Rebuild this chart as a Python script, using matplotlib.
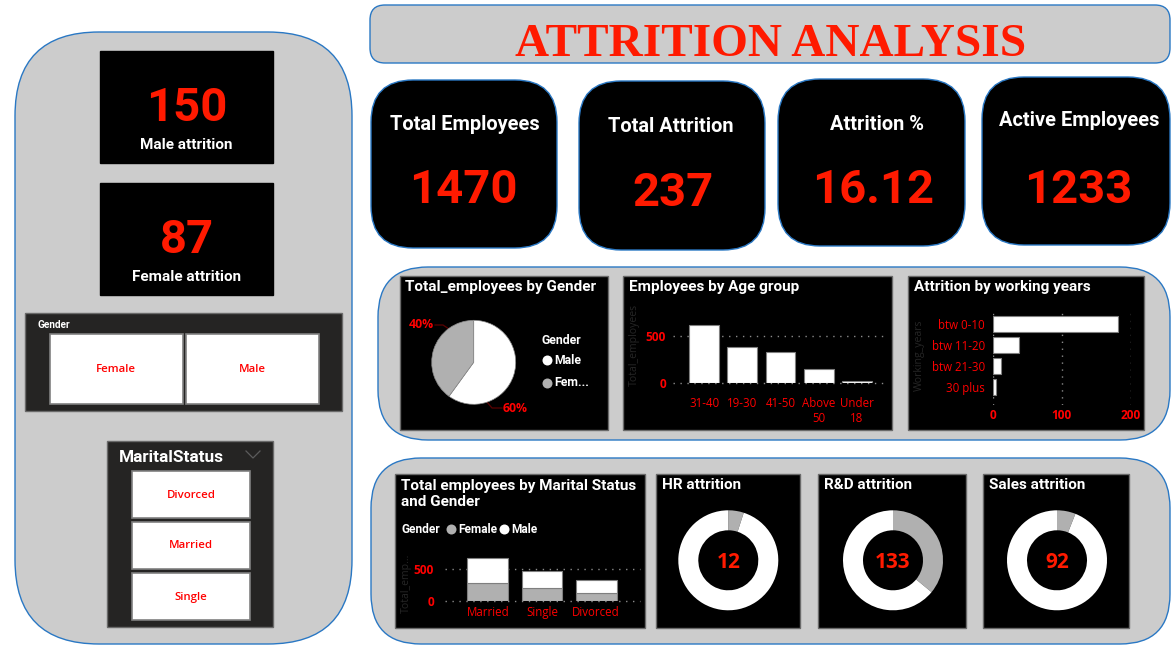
import matplotlib
matplotlib.use("Agg")
import matplotlib.pyplot as plt
from matplotlib.patches import FancyBboxPatch, Rectangle

# ---------- data ----------
title_text = "ATTRITION ANALYSIS"
kpi_labels = ["Total Employees", "Total Attrition", "Attrition %", "Active Employees"]
kpi_values = ["1470", "237", "16.12", "1233"]
side_labels = ["Male attrition", "Female attrition"]
side_values = ["150", "87"]
gender_opts = ["Female", "Male"]
marital_opts = ["Divorced", "Married", "Single"]

gender_names = ["Male", "Female"]
gender_counts = [882, 588]

age_groups = ["31-40", "19-30", "41-50", "Above\n50", "Under\n18"]
age_counts = [619, 379, 325, 143, 15]

year_groups = ["btw 0-10", "btw 11-20", "btw 21-30", "30 plus"]
year_attrition = [181, 38, 11, 5]

marital_groups = ["Married", "Single", "Divorced"]
marital_female = [276, 196, 117]
marital_male = [403, 282, 207]

dept_titles = ["HR attrition", "R&D attrition", "Sales attrition"]
dept_totals = ["12", "133", "92"]
dept_female_share = [5, 36, 6]
dept_male_share = [95, 64, 94]

# ---------- style ----------
W, H = 1174, 655
RED_BIG = "#ff1a00"
RED = "#ff0000"
GREY = "#b0b0b0"
PANEL = "#cccccc"
BLUE = "#2a78c4"
SLICER = "#252423"
DARK_AXIS = "#262626"
BAR_EDGE = "#7f7f7f"
DIN = "Roboto"
SEGOE = "Open Sans"

fig = plt.figure(figsize=(W / 100, H / 100), dpi=100, facecolor="white")
bg = fig.add_axes([0, 0, 1, 1], zorder=0)
bg.set_xlim(0, W)
bg.set_ylim(H, 0)
bg.axis("off")


def px_axes(x0, y0, x1, y1, z=2):
    ax = fig.add_axes([x0 / W, 1 - y1 / H, (x1 - x0) / W, (y1 - y0) / H], zorder=z)
    ax.patch.set_alpha(0)
    return ax


def rbox(x0, y0, x1, y1, r, fc, ec=BLUE, lw=1.0, z=1):
    bg.add_patch(FancyBboxPatch((x0 + r, y0 + r), x1 - x0 - 2 * r, y1 - y0 - 2 * r,
                                boxstyle=f"round,pad={r},rounding_size={r}",
                                fc=fc, ec=ec, lw=lw, zorder=z))


def rect(x0, y0, x1, y1, fc, ec="#6a6a6a", lw=1.0, z=1.5):
    bg.add_patch(Rectangle((x0, y0), x1 - x0, y1 - y0, fc=fc, ec=ec, lw=lw, zorder=z))


def txt(x, y, s, size, color="white", weight="bold", family=DIN, ha="left", va="center", **kw):
    return bg.text(x, y, s, fontsize=size, color=color, fontweight=weight, family=family,
                   ha=ha, va=va, zorder=3, **kw)


def clean(ax):
    for sp in ax.spines.values():
        sp.set_visible(False)
    ax.tick_params(length=0)


# ---------- panels ----------
rbox(15, 32, 352, 644, 84, PANEL)
rbox(370, 5, 1170, 63, 15, PANEL)
rbox(378, 267, 1170, 440, 50, PANEL)
rbox(371, 458, 1170, 644, 50, PANEL)

txt(771, 45, title_text, 34, color=RED_BIG, family="Liberation Serif", ha="center")

# KPI cards
kpi_boxes = [(371, 80, 557, 248), (579, 81, 765, 250), (778, 79, 965, 246), (982, 77, 1170, 245)]
kpi_label_xy = [(465, 124), (671, 126), (877, 124), (1079, 120)]
kpi_value_xy = [(463, 190), (673, 193), (873, 190), (1078, 190)]
for box, lab, lxy, val, vxy in zip(kpi_boxes, kpi_labels, kpi_label_xy, kpi_values, kpi_value_xy):
    rbox(*box, 42, "black")
    txt(lxy[0], lxy[1], lab, 14.4, ha="center")
    txt(vxy[0], vxy[1], val, 34, color=RED_BIG, ha="center")

# Side cards
side_boxes = [(100, 51, 273, 163), (100, 183, 273, 295)]
for box, lab, val in zip(side_boxes, side_labels, side_values):
    rect(*box, "black", ec="black")
    txt((box[0] + box[2]) / 2, box[1] + 57, val, 34, color=RED_BIG, ha="center")
    txt((box[0] + box[2]) / 2, box[1] + 94, lab, 11, ha="center")

# Gender slicer
rect(25, 313, 342, 411, SLICER)
txt(37, 325, "Gender", 7.2)
for (x0, x1), lab in zip([(49.5, 183), (185.5, 319)], gender_opts):
    rect(x0, 333.5, x1, 404, "white", ec="#808080", lw=1.2, z=2)
    txt((x0 + x1) / 2, 370, lab, 8.2, color=RED, weight="semibold", family=SEGOE, ha="center")

# Marital slicer
rect(107, 441, 273, 627, SLICER)
txt(119, 458, "MaritalStatus", 12.4)
bg.plot([246, 253, 260], [451, 458, 451], color="#5c5c5c", lw=0.9, zorder=3)
for (y0, y1), lab in zip([(470.5, 517.5), (521.5, 568.5), (573, 620)], marital_opts):
    rect(132, y0, 250, y1, "white", ec="#808080", lw=1.2, z=2)
    txt(191, (y0 + y1) / 2 + 1, lab, 8.2, color=RED, weight="semibold", family=SEGOE, ha="center")

# Chart frames
frames = [(400, 276, 608, 430), (623, 276, 892, 430), (908, 276, 1144, 430),
          (395, 474, 645, 628), (656, 474, 800, 628), (818, 474, 966, 628), (983, 474, 1129, 628)]
for f in frames:
    rect(*f, "black")

txt(405, 287, "Total_employees by Gender", 11)
txt(629, 287, "Employees by Age group", 11)
txt(914, 287, "Attrition by working years", 11)
txt(401, 494, "Total employees by Marital Status\nand Gender", 11, linespacing=1.2)

# ---------- pie ----------
ax = px_axes(431.7, 320.3, 515.7, 404.3)
ax.pie(gender_counts, colors=["white", GREY], startangle=90, counterclock=False, radius=1,
       wedgeprops=dict(lw=0.5, ec="#888888"))
ax.set_xlim(-1, 1)
ax.set_ylim(-1, 1)
bg.plot([435, 443, 449], [325, 325, 329], color="#5a0000", lw=0.9, zorder=3)
bg.plot([487, 492, 502], [402, 408, 408], color="#5a0000", lw=0.9, zorder=3)
total = sum(gender_counts)
txt(409, 325, f"{round(100 * gender_counts[1] / total)}%", 8.8, color=RED, family=SEGOE)
txt(503, 408.5, f"{round(100 * gender_counts[0] / total)}%", 8.8, color=RED, family=SEGOE)
txt(542, 340, "Gender", 8.8)
for y, name, col, shown in zip([360, 383], gender_names, ["white", GREY], ["Male", "Fem..."]):
    bg.plot([547], [y], "o", ms=7.2, color=col, zorder=3, mew=0)
    txt(554, y, shown, 8.8)

# ---------- age bars ----------
ax = px_axes(673, 300, 886, 382.7)
ax.bar(range(len(age_groups)), age_counts, width=0.775, color="white", ec=BAR_EDGE, lw=0.8, zorder=2)
ax.set_xlim(-0.81, 4.755)
ax.set_ylim(0, 885)
ax.set_yticks([0, 500])
ax.set_xticks(range(len(age_groups)))
ax.set_xticklabels(age_groups, color=RED, fontsize=8.3, family=SEGOE, linespacing=1.2)
ax.set_yticklabels(["0", "500"], color=RED, fontsize=8.6, fontweight="bold", family=SEGOE)
ax.tick_params(axis="x", pad=10)
ax.tick_params(axis="y", pad=5)
ax.yaxis.grid(True, color="#8a8a8a", ls=(0, (1, 4)), lw=1, clip_on=False)
ax.set_axisbelow(True)
clean(ax)
txt(634, 345, "Total_employees", 7.6, color=DARK_AXIS, weight="normal", family=SEGOE, ha="center", rotation=90)

# ---------- working years ----------
ax = px_axes(993, 308, 1131, 405)
ax.barh(range(len(year_groups)), year_attrition, height=0.76, color="white", ec=BAR_EDGE, lw=0.8, zorder=2)
ax.set_xlim(0, 200.5)
ax.set_ylim(3.86, -0.74)
ax.set_xticks([0, 100, 200])
ax.set_yticks(range(len(year_groups)))
ax.set_yticklabels(year_groups, color=RED, fontsize=8.3, family=SEGOE)
ax.set_xticklabels(["0", "100", "200"], color=RED, fontsize=8.6, fontweight="bold", family=SEGOE)
ax.tick_params(axis="y", pad=6)
ax.tick_params(axis="x", pad=3)
ax.xaxis.grid(True, color="#8a8a8a", ls=(0, (1, 4)), lw=1)
ax.set_axisbelow(True)
clean(ax)
txt(919, 355, "Working_years", 7.6, color=DARK_AXIS, weight="normal", family=SEGOE, ha="center", rotation=90)

# ---------- marital stacked ----------
ax = px_axes(445, 550, 640, 600.7)
xs = range(len(marital_groups))
ax.bar(xs, marital_female, width=0.755, color=GREY, ec=BAR_EDGE, lw=0.8, zorder=2)
ax.bar(xs, marital_male, bottom=marital_female, width=0.755, color="white", ec=BAR_EDGE, lw=0.8, zorder=2)
ax.set_xlim(-0.79, 2.81)
ax.set_ylim(0, 807)
ax.set_yticks([0, 500])
ax.set_xticks(list(xs))
ax.set_xticklabels(marital_groups, color=RED, fontsize=8.3, family=SEGOE)
ax.set_yticklabels(["0", "500"], color=RED, fontsize=8.6, fontweight="bold", family=SEGOE)
ax.tick_params(axis="x", pad=4)
ax.tick_params(axis="y", pad=8)
ax.yaxis.grid(True, color="#8a8a8a", ls=(0, (1, 4)), lw=1, clip_on=False)
ax.set_axisbelow(True)
clean(ax)
txt(406, 583, "Total_emp...", 7.6, color=DARK_AXIS, weight="normal", family=SEGOE, ha="center", rotation=90)
txt(401, 529.5, "Gender", 8.6)
bg.plot([451], [529], "o", ms=7.2, color=GREY, zorder=3, mew=0)
txt(458, 529.5, "Female", 8.6)
bg.plot([504], [529], "o", ms=7.2, color="white", zorder=3, mew=0)
txt(511, 529.5, "Male", 8.6)

# ---------- donuts ----------
dept_centers = [728.3, 893, 1057]
dept_title_x = [662, 824, 989]
for cx, tx, title, tot, f, m in zip(dept_centers, dept_title_x, dept_titles, dept_totals,
                                    dept_female_share, dept_male_share):
    txt(tx, 485, title, 11)
    ax = px_axes(cx - 50, 510.3, cx + 50, 610.3)
    ax.pie([f, m], colors=[GREY, "white"], startangle=90, counterclock=False, radius=1,
           wedgeprops=dict(width=0.4, lw=0))
    ax.set_xlim(-1, 1)
    ax.set_ylim(-1, 1)
    txt(cx, 563, tot, 15, color=RED_BIG, family=SEGOE, ha="center")

fig.savefig("out.png", dpi=100, facecolor="white")
